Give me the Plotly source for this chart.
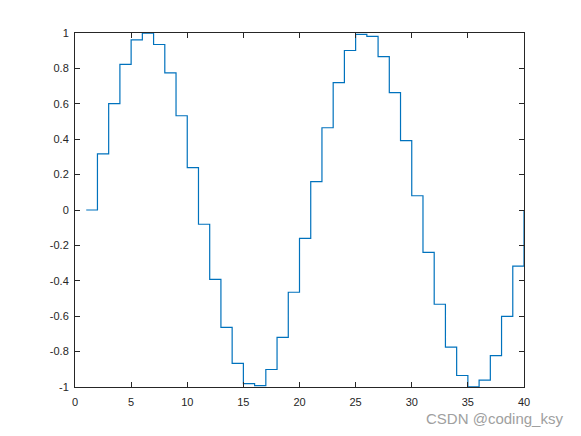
import plotly.graph_objects as go

idx = list(range(1, 41))
vals = [
    0.0, 0.3167, 0.6006, 0.8230, 0.9606, 0.9992, 0.9349, 0.7743, 0.5325, 0.2393,
    -0.0805, -0.3914, -0.6631, -0.8660, -0.9807, -0.9927, -0.9010, -0.7197, -0.4647, -0.1604,
    0.1604, 0.4647, 0.7197, 0.9010, 0.9927, 0.9807, 0.8660, 0.6631, 0.3914, 0.0805,
    -0.2393, -0.5325, -0.7743, -0.9349, -0.9992, -0.9606, -0.8230, -0.6006, -0.3167, 0.0,
]

x_ticks = [0, 5, 10, 15, 20, 25, 30, 35, 40]
y_ticks = [-1, -0.8, -0.6, -0.4, -0.2, 0, 0.2, 0.4, 0.6, 0.8, 1]
y_labels = ["-1", "-0.8", "-0.6", "-0.4", "-0.2", "0", "0.2", "0.4", "0.6", "0.8", "1"]

fig = go.Figure()

# stairs line
fig.add_trace(
    go.Scatter(
        x=idx,
        y=vals,
        mode="lines",
        line=dict(shape="hv", color="#0072BD", width=1.2),
        showlegend=False,
    )
)

axis_common = dict(
    showgrid=False,
    zeroline=False,
    showline=True,
    linecolor="#262626",
    linewidth=1,
    mirror="ticks",
    ticks="inside",
    ticklen=5,
    tickcolor="#262626",
    tickfont=dict(family="Liberation Sans, Arial", size=11, color="#262626"),
)

fig.update_xaxes(range=[0, 40], tickvals=x_ticks, ticklabelstandoff=5, **axis_common)
fig.update_yaxes(range=[-1, 1], tickvals=y_ticks, ticktext=y_labels,
                 ticklabelstandoff=3, **axis_common)

# watermark
fig.add_annotation(
    text="CSDN @coding_ksy",
    xref="paper", yref="paper",
    x=1.091, y=-0.088,
    xanchor="right", yanchor="middle",
    showarrow=False,
    font=dict(family="Liberation Sans, Arial", size=15, color="#a0a0a0"),
)

fig.update_layout(
    width=581,
    height=436,
    margin=dict(l=67, r=65, t=25, b=57),
    paper_bgcolor="white",
    plot_bgcolor="white",
)

fig.write_html("out.html")
